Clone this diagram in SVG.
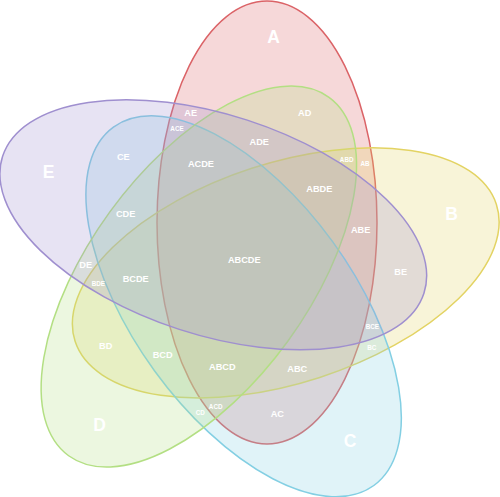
<svg xmlns="http://www.w3.org/2000/svg" width="500" height="497" viewBox="0 0 500 497">
<defs>
<style>
.set{stroke-width:1.5;fill-opacity:0.25}
.big{font-family:"Liberation Sans",Arial,sans-serif;font-size:17.5px;font-weight:bold;fill:#fff;text-anchor:middle}
.lbl{font-family:"Liberation Sans",Arial,sans-serif;font-size:9.2px;font-weight:bold;fill:#fff;text-anchor:middle}
.sm{font-family:"Liberation Sans",Arial,sans-serif;font-size:6.3px;font-weight:bold;fill:#fff;text-anchor:middle}
</style>
<ellipse id="shape" cx="267" cy="222.5" rx="110" ry="221.5"/>
</defs>
<rect width="500" height="497" fill="#fff"/>
<g id="set-A"><use href="#shape" class="set" fill="#db6367" stroke="#db6367"/></g>
<g id="set-B"><use href="#shape" class="set" fill="#e3d363" stroke="#e3d363" transform="rotate(72 241.7 260.6)"/></g>
<g id="set-C"><use href="#shape" class="set" fill="#83cfe3" stroke="#83cfe3" transform="rotate(144 241.7 260.6)"/></g>
<g id="set-D"><use href="#shape" class="set" fill="#b3df83" stroke="#b3df83" transform="rotate(216 241.7 260.6)"/></g>
<g id="set-E"><use href="#shape" class="set" fill="#9f8fcf" stroke="#9f8fcf" transform="rotate(288 241.7 260.6)"/></g>
<g id="set-labels">
<text class="big" x="273.5" y="43">A</text>
<text class="big" x="451.5" y="220">B</text>
<text class="big" x="350" y="446.5">C</text>
<text class="big" x="99.5" y="431">D</text>
<text class="big" x="48.5" y="178">E</text>
</g>
<g id="region-labels">
<text class="lbl" x="190.7" y="116">AE</text>
<text class="sm" x="177" y="130.6">ACE</text>
<text class="lbl" x="304.7" y="116">AD</text>
<text class="lbl" x="259.3" y="145">ADE</text>
<text class="lbl" x="123.3" y="160.3">CE</text>
<text class="lbl" x="201" y="166.6">ACDE</text>
<text class="sm" x="346.7" y="161.6">ABD</text>
<text class="sm" x="365" y="166.3">AB</text>
<text class="lbl" x="319.3" y="191.6">ABDE</text>
<text class="lbl" x="125.7" y="217">CDE</text>
<text class="lbl" x="360.7" y="233.3">ABE</text>
<text class="lbl" x="244.3" y="262.6">ABCDE</text>
<text class="lbl" x="85.7" y="267.6">DE</text>
<text class="sm" x="98.3" y="285.6">BDE</text>
<text class="lbl" x="135.7" y="281.6">BCDE</text>
<text class="lbl" x="400.7" y="274.6">BE</text>
<text class="sm" x="372.3" y="328.6">BCE</text>
<text class="sm" x="371.7" y="350.3">BC</text>
<text class="lbl" x="105.7" y="349.3">BD</text>
<text class="lbl" x="162.7" y="358">BCD</text>
<text class="lbl" x="222.3" y="370">ABCD</text>
<text class="lbl" x="297.3" y="371.6">ABC</text>
<text class="sm" x="215.7" y="408.6">ACD</text>
<text class="sm" x="200.3" y="415">CD</text>
<text class="lbl" x="277.3" y="417">AC</text>
</g>
</svg>
